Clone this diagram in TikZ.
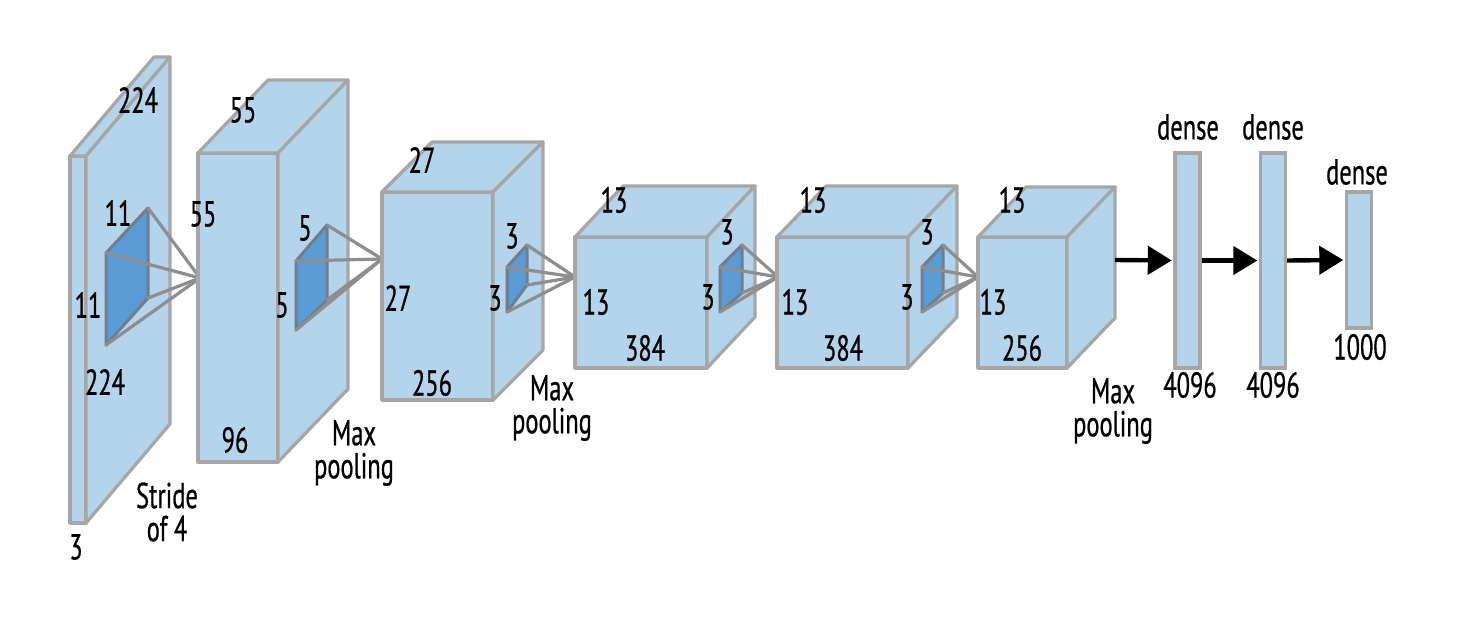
\documentclass[tikz,border=0pt]{standalone}
\usepackage{fontspec}
\setmainfont[FakeStretch=0.68,FakeBold=0.6]{PT Sans}
\usetikzlibrary{arrows.meta}
\definecolor{lightb}{HTML}{B3D4EA}
\definecolor{edgegray}{HTML}{A6A6A6}
\definecolor{kernfill}{HTML}{5B9BD5}
\definecolor{kernedge}{HTML}{6E7E8E}
\definecolor{rayc}{HTML}{8E8E8E}
\tikzset{
  face/.style={fill=lightb, draw=edgegray, line width=1.6pt, line join=round},
  kern/.style={fill=kernfill, draw=kernedge, line width=1.5pt, line join=round},
  ray/.style={draw=rayc, line width=1.6pt, line cap=round},
  lbl/.style={inner sep=0pt, font=\fontsize{18}{16.5}\selectfont, align=center},
  bar/.style={fill=lightb, draw=edgegray, line width=1.6pt, inner sep=0pt, minimum width=12.5pt},
  flow/.style={draw=black, line width=2.2pt, -{Triangle[length=12pt,width=14pt]}, shorten >=0.8pt}
}
% #1 left, #2 right, #3 top, #4 bottom, #5 depth dx, #6 depth dy
\newcommand{\blockcube}[6]{%
  \draw[face] (#1,#3) rectangle (#2,#4);
  \draw[face] (#1,#3) -- ({#1+#5},{#3-#6}) -- ({#2+#5},{#3-#6}) -- (#2,#3) -- cycle;
  \draw[face] (#2,#3) -- ({#2+#5},{#3-#6}) -- ({#2+#5},{#4-#6}) -- (#2,#4) -- cycle;
}
% #1 xl, #2 xr, #3 y left-top, #4 y right-top, #5 y right-bottom, #6 y left-bottom, #7 apex x, #8 apex y
\newcommand{\kernelpyr}[8]{%
  \draw[kern] (#1,#3) -- (#2,#4) -- (#2,#5) -- (#1,#6) -- cycle;
  \draw[ray] (#7,#8) -- (#2,#4);
  \draw[ray] (#7,#8) -- (#1,#3);
  \draw[ray] (#7,#8) -- (#2,#5);
  \draw[ray] (#7,#8) -- (#1,#6);
}
\begin{document}
\begin{tikzpicture}[x=0.5pt,y=-0.5pt]
\useasboundingbox (0,0) rectangle (1470,631);
\fill[white] (0,0) rectangle (1470,631);

% input
\blockcube{70}{86}{156}{523}{84}{99}
\kernelpyr{106}{148}{253}{208}{298}{345}{200}{278}
% conv1
\blockcube{198}{278}{153}{462}{70}{73}
\kernelpyr{296}{327}{261}{225}{300}{330}{382}{259}
% conv2
\blockcube{382}{493}{192}{400}{50}{50}
\kernelpyr{507}{527}{267}{245}{285}{312}{575}{277}
% conv3
\blockcube{575}{707}{237}{368}{48}{51}
\kernelpyr{720}{742}{267}{245}{293}{312}{778}{277}
% conv4
\blockcube{777}{908}{237}{368}{49}{51}
\kernelpyr{922}{943}{267}{245}{293}{312}{978}{277}
% conv5
\blockcube{978}{1067}{237}{368}{48}{50}
\coordinate (c6) at (1115,260);

% dense layers
\node[bar, minimum height=107.5pt] (d1) at (1187.5,260.5) {};
\node[bar, minimum height=107.5pt] (d2) at (1273,260.5) {};
\node[bar, minimum height=68pt] (d3) at (1359,260) {};
\draw[flow] (c6) -- (d1.west);
\draw[flow] (d1.east) -- (d2.west);
\draw[flow] (d2.east) -- (d3.west);

% labels
\node[lbl] (l1) at (138,100) {224};
\node[lbl] (l2) at (118,213) {11};
\node[lbl] (l3) at (88,305) {11};
\node[lbl] (l4) at (105,382) {224};
\node[lbl] (l5) at (76,547) {3};
\node[lbl] (l6) at (167,512) {Stride\\of 4};
\node[lbl] (l7) at (243,110) {55};
\node[lbl] (l8) at (203,214) {55};
\node[lbl] (l9) at (305,228) {5};
\node[lbl] (l10) at (282,305) {5};
\node[lbl] (l11) at (235,440) {96};
\node[lbl] (l12) at (354,453) {Max\\pooling};
\node[lbl] (l13) at (422,160) {27};
\node[lbl] (l14) at (398,298) {27};
\node[lbl] (l15) at (512,236) {3};
\node[lbl] (l16) at (495,298) {3};
\node[lbl] (l17) at (432,383) {256};
\node[lbl] (l18) at (552,408) {Max\\pooling};
\node[lbl] (l19) at (614,200) {13};
\node[lbl] (l20) at (596,302) {13};
\node[lbl] (l21) at (727,232) {3};
\node[lbl] (l22) at (708,297) {3};
\node[lbl] (l23) at (645,348) {384};
\node[lbl] (l24) at (813,200) {13};
\node[lbl] (l25) at (795,302) {13};
\node[lbl] (l26) at (927,232) {3};
\node[lbl] (l27) at (907,297) {3};
\node[lbl] (l28) at (843,348) {384};
\node[lbl] (l29) at (1012,200) {13};
\node[lbl] (l30) at (993,302) {13};
\node[lbl] (l31) at (1022,348) {256};
\node[lbl] (l32) at (1113,411) {Max\\pooling};
\node[lbl] (l33) at (1188,127) {dense};
\node[lbl] (l34) at (1273,127) {dense};
\node[lbl] (l35) at (1357,172) {dense};
\node[lbl] (l36) at (1190,385) {4096};
\node[lbl] (l37) at (1273,385) {4096};
\node[lbl] (l38) at (1360,347) {1000};
\end{tikzpicture}
\end{document}
